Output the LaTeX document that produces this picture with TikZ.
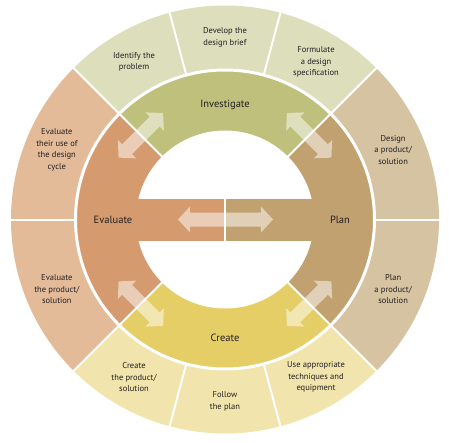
\documentclass[tikz,border=0pt]{standalone}
\usepackage{fontspec}
\setmainfont{PT Sans}

% colours of the two rings
\definecolor{invouter}{RGB}{221,222,188}
\definecolor{invmid}{RGB}{190,192,124}
\definecolor{planouter}{RGB}{214,195,161}
\definecolor{planmid}{RGB}{193,161,112}
\definecolor{createouter}{RGB}{241,228,173}
\definecolor{createmid}{RGB}{229,206,102}
\definecolor{evalouter}{RGB}{227,187,153}
\definecolor{evalmid}{RGB}{213,155,111}
\definecolor{labeltext}{RGB}{35,31,32}

% two-headed arrow along the x axis, #1 = half length
\newcommand{\twoway}[1]{%
  \fill[arrowfill] (-#1,0) -- (-#1+12,13) -- (-#1+12,7) -- (#1-12,7) -- (#1-12,13)
    -- (#1,0) -- (#1-12,-13) -- (#1-12,-7) -- (-#1+12,-7) -- (-#1+12,-13) -- cycle;}

\begin{document}
\begin{tikzpicture}[x=1pt, y=1pt, line join=round, line cap=round,
    gap/.style={white, line width=2pt},
    arrowfill/.style={white, fill opacity=0.5},
    ringlabel/.style={align=center, text=labeltext, font=\fontsize{8.5}{11.5}\selectfont},
    stagelabel/.style={text=labeltext, font=\fontsize{10.5}{12}\selectfont}]
  % Define parameters
  \def\Rout{214}   % outer edge of the outer ring
  \def\Rmid{149.5} % edge between the two rings
  \def\Rhole{89}   % radius of the white hole
  \def\barh{21}    % half height of the middle bar
  \def\Rtext{182}  % radius of the outer labels
  \def\Rarrow{119} % radius of the diagonal arrows

  \useasboundingbox (-225,-222.5) rectangle (225,219.5);

  % Outer ring, one colour per stage
  \foreach \a/\c in {45/invouter, -45/planouter, -135/createouter, 135/evalouter}
    \fill[\c] (0,0) -- (\a:\Rout) arc (\a:\a+90:\Rout) -- cycle;

  % Middle ring
  \foreach \a/\c in {45/invmid, -45/planmid, -135/createmid, 135/evalmid}
    \fill[\c] (0,0) -- (\a:\Rmid) arc (\a:\a+90:\Rmid) -- cycle;

  % White hole with the bar across it
  \fill[white] (0,0) circle (\Rhole);
  \fill[evalmid] (-\Rhole,-\barh) rectangle (0,\barh);
  \fill[planmid] (0,-\barh) rectangle (\Rhole,\barh);

  % White separating lines
  \draw[gap] (0,-\barh) -- (0,\barh);
  \foreach \a in {45,135,225,315}
    \draw[gap] (\a:\Rhole) -- (\a:\Rout);
  \foreach \a in {75,105,0,180,255,285}
    \draw[gap] (\a:\Rmid) -- (\a:\Rout);
  \draw[white, line width=3pt] (0,0) circle (\Rmid);

  % Arrows between the stages
  \foreach \a in {45,135,225,315} {
    \begin{scope}[shift={(\a:\Rarrow)}, rotate=\a+90]
      \twoway{31.5}
    \end{scope}
  }
  \begin{scope}[shift={(0.5,0)}]
    \twoway{47.5}
  \end{scope}

  % Stage names
  \node[stagelabel] (investigate) at (90:115) {Investigate};
  \node[stagelabel] (plan) at (0:115) {Plan};
  \node[stagelabel] (create) at (-90:118) {Create};
  \node[stagelabel] (evaluate) at (180:112) {Evaluate};

  % Steps in the outer ring
  \node[ringlabel] (identify) at (120:\Rtext) {Identify the\\problem};
  \node[ringlabel] (brief) at (90:\Rtext) {Develop the\\design brief};
  \node[ringlabel] (spec) at (60:\Rtext) {Formulate\\a design\\specification};
  \node[ringlabel] (design) at (22.5:\Rtext) {Design\\a product/\\solution};
  \node[ringlabel] (planprod) at (-22.5:\Rtext) {Plan\\a product/\\solution};
  \node[ringlabel] (techniques) at (-60:\Rtext) {Use appropriate\\techniques and\\equipment};
  \node[ringlabel] (follow) at (-90:\Rtext) {Follow\\the plan};
  \node[ringlabel] (createprod) at (-120:\Rtext) {Create\\the product/\\solution};
  \node[ringlabel] (evalprod) at (-157.5:\Rtext) {Evaluate\\the product/\\solution};
  \node[ringlabel] (evalcycle) at (157.5:\Rtext) {Evaluate\\their use of\\the design\\cycle};

\end{tikzpicture}
\end{document}
